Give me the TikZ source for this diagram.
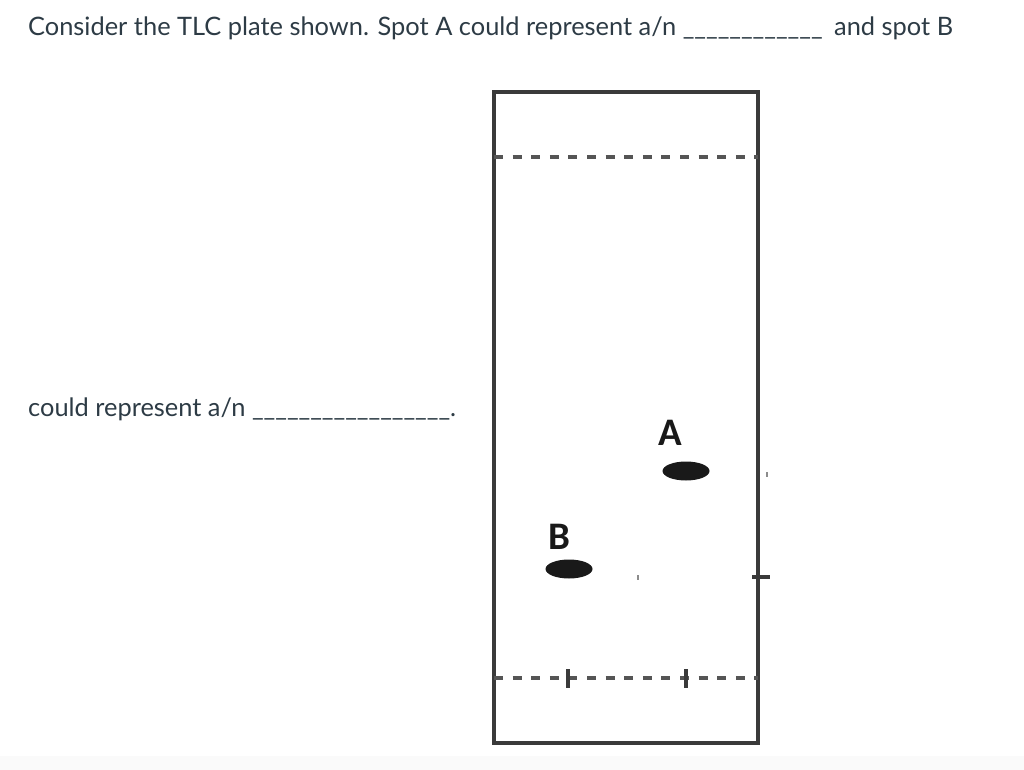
\documentclass[tikz,border=0pt]{standalone}
\usepackage{fontspec}
\usetikzlibrary{shapes.geometric}
\setmainfont{Lato}
\newfontfamily\labelfont{Carlito}
\definecolor{txt}{HTML}{2D3B45}
\definecolor{plate}{HTML}{3A3A3A}
\definecolor{dash}{HTML}{555555}
\begin{document}
\begin{tikzpicture}[x=1pt,y=-1pt,
  qtext/.style={anchor=base west,inner sep=0pt,text=txt,font=\fontsize{25.4}{30}\selectfont},
  platebox/.style={draw=plate,line width=3.6pt},
  frontline/.style={draw=dash,line width=4pt,dash pattern=on 9pt off 9.6pt},
  spot/.style={fill=black!90,draw=none,ellipse,minimum width=47pt,minimum height=19pt,inner sep=0pt},
  spotlabel/.style={font=\labelfont\bfseries\fontsize{39}{42}\selectfont,text=black!90,inner sep=0pt},
  tick/.style={draw=plate,line width=3.2pt}]
\useasboundingbox (0,0) rectangle (1024,770);
\fill[black!2] (0,756) rectangle (1024,770);
% question text
\node[qtext] (q1) at (28,36) {Consider the TLC plate shown. Spot A could represent a/n \_\_\_\_\_\_\_\_\_\_\_\_\hspace{5pt} and spot B};
\node[qtext] (q2) at (28,416) {could represent a/n \_\_\_\_\_\_\_\_\_\_\_\_\_\_\_\_\_.};
% plate
\coordinate (tl) at (494,92);
\coordinate (br) at (758,743);
\draw[platebox] (tl) rectangle (br);
% solvent front and origin lines
\coordinate (f1) at (494,157);
\coordinate (f2) at (758,157);
\draw[frontline] (f1) -- (f2);
\coordinate (o1) at (494,678);
\coordinate (o2) at (758,678);
\draw[frontline] (o1) -- (o2);
% origin ticks
\coordinate (t1a) at (568,669); \coordinate (t1b) at (568,688);
\coordinate (t2a) at (686,669); \coordinate (t2b) at (686,688);
\draw[tick] (t1a) -- (t1b);
\draw[tick] (t2a) -- (t2b);
% right edge tick
\coordinate (r1) at (752,577); \coordinate (r2) at (770,577);
\draw[tick] (r1) -- (r2);
% tiny marks
\fill[black!45] (636.5,575) rectangle (638.5,580);
\fill[black!45] (765.5,472) rectangle (767.5,477);
% spots
\node[spot] (spotA) at (686,471) {};
\node[spot] (spotB) at (569,569) {};
\node[spotlabel] (labA) at (670,433) {A};
\node[spotlabel] (labB) at (559,537) {B};
\end{tikzpicture}
\end{document}
